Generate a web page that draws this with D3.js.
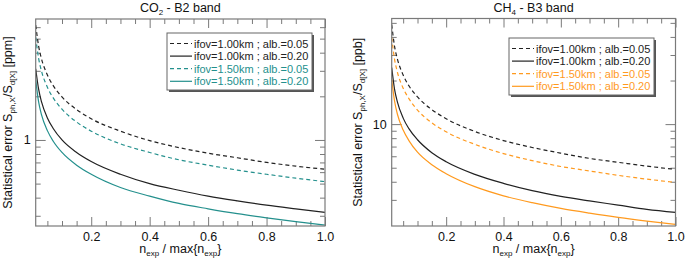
<!DOCTYPE html>
<html>
<head>
<meta charset="utf-8">
<script src="https://cdn.jsdelivr.net/npm/d3@7"></script>
<style>
  body { margin: 0; background: #fff; }
  svg text { font-family: "Liberation Sans", Arial, Helvetica, sans-serif; fill: #111; }
</style>
</head>
<body>
<div id="chart"></div>
<script>
var xValues = [0.01, 0.02, 0.03, 0.05, 0.07, 0.1, 0.15, 0.2, 0.3, 0.4, 0.5, 0.6, 0.7, 0.8, 0.9, 1.0];

// CO2 - B2 band [ppm]
var co2_100_005 = [6.2, 4.44, 3.62, 2.81, 2.37, 1.98, 1.62, 1.40, 1.15, 0.99, 0.886, 0.81, 0.754, 0.70, 0.66, 0.628];
var co2_100_020 = [3.1, 2.24, 1.83, 1.42, 1.20, 1.0, 0.82, 0.71, 0.58, 0.50, 0.45, 0.41, 0.38, 0.355, 0.335, 0.317];
var co2_150_005 = [5.1, 3.65, 2.98, 2.31, 1.95, 1.63, 1.33, 1.15, 0.94, 0.82, 0.73, 0.67, 0.62, 0.58, 0.545, 0.516];
var co2_150_020 = [2.6, 1.83, 1.49, 1.16, 0.98, 0.82, 0.67, 0.58, 0.47, 0.41, 0.365, 0.335, 0.31, 0.29, 0.273, 0.259];

// CH4 - B3 band [ppb]
var ch4_100_005 = [48.7, 34.4, 28.1, 21.8, 18.4, 15.4, 12.6, 10.9, 8.9, 7.7, 6.9, 6.3, 5.8, 5.45, 5.13, 4.87];
var ch4_100_020 = [24.6, 17.4, 14.2, 11.0, 9.3, 7.8, 6.35, 5.5, 4.5, 3.9, 3.47, 3.17, 2.95, 2.76, 2.58, 2.46];
var ch4_150_005 = [39.6, 28.0, 22.8, 17.7, 15.0, 12.5, 10.2, 8.85, 7.25, 6.26, 5.6, 5.1, 4.75, 4.43, 4.17, 3.96];
var ch4_150_020 = [20.3, 14.4, 11.7, 9.1, 7.7, 6.4, 5.25, 4.55, 3.7, 3.2, 2.87, 2.62, 2.43, 2.27, 2.14, 2.03];

var legendLabels = ["ifov=1.00km ; alb.=0.05", "ifov=1.00km ; alb.=0.20", "ifov=1.50km ; alb.=0.05", "ifov=1.50km ; alb.=0.20"];

var xMajorTicks = [0.2, 0.4, 0.6, 0.8, 1.0];
var xMinorTicks = [0.05, 0.1, 0.15, 0.25, 0.3, 0.35, 0.45, 0.5, 0.55, 0.65, 0.7, 0.75, 0.85, 0.9, 0.95];
var co2MajorTicks = [1];
var co2MinorTicks = [0.3, 0.4, 0.5, 0.6, 0.7, 0.8, 0.9, 2, 3, 4, 5, 6];
var ch4MajorTicks = [10];
var ch4MinorTicks = [3, 4, 5, 6, 7, 8, 9, 20, 30, 40, 50];

var width = 685, height = 263;

var svg = d3.select("#chart")
    .append("svg")
    .attr("width", width)
    .attr("height", height);

var teal = "#24908d";
var orange = "#ff9a1f";
var dark = "#222";
var frameColor = "#7a7a7a";

function drawPanel(p) {
    var g = svg.append("g");

    var xScale = d3.scaleLinear()
        .domain([0.01, 1.0])
        .range([p.left, p.right]);

    var yScale = d3.scaleLog()
        .domain(p.yDomain)
        .range([p.bottom, p.top]);

    // ticks, all pointing inward
    function tickAxis(axis, values, size, transform) {
        var a = g.append("g")
            .attr("transform", transform)
            .call(axis.tickValues(values).tickSize(-size).tickFormat(""));
        a.select(".domain").remove();
        a.selectAll("line").attr("stroke", frameColor);
        return a;
    }
    tickAxis(d3.axisBottom(xScale), xMinorTicks, 5, `translate(0,${p.bottom})`);
    tickAxis(d3.axisBottom(xScale), xMajorTicks, 9, `translate(0,${p.bottom})`);
    tickAxis(d3.axisTop(xScale), xMinorTicks, 5, `translate(0,${p.top})`);
    tickAxis(d3.axisTop(xScale), xMajorTicks, 9, `translate(0,${p.top})`);
    tickAxis(d3.axisLeft(yScale), p.yMinor, 5, `translate(${p.left},0)`);
    tickAxis(d3.axisLeft(yScale), p.yMajor, 10, `translate(${p.left},0)`);
    tickAxis(d3.axisRight(yScale), p.yMinor, 5, `translate(${p.right},0)`);
    tickAxis(d3.axisRight(yScale), p.yMajor, 10, `translate(${p.right},0)`);

    // tick labels
    var xLab = g.append("g")
        .attr("transform", `translate(0,${p.bottom})`)
        .call(d3.axisBottom(xScale).tickValues(xMajorTicks).tickSize(0).tickPadding(6)
            .tickFormat(d3.format(".1f")));
    xLab.select(".domain").remove();
    xLab.selectAll("text").attr("font-size", 12.5).style("font-family", "Liberation Sans, Arial, sans-serif").attr("fill", "#111");

    var yLab = g.append("g")
        .attr("transform", `translate(${p.left},0)`)
        .call(d3.axisLeft(yScale).tickValues(p.yMajor).tickSize(0).tickPadding(5)
            .tickFormat(d3.format("d")));
    yLab.select(".domain").remove();
    yLab.selectAll("text").attr("font-size", 12.5).style("font-family", "Liberation Sans, Arial, sans-serif").attr("fill", "#111");

    // curves
    var clipId = "clip" + p.id;
    svg.append("clipPath").attr("id", clipId)
        .append("rect")
        .attr("x", p.left).attr("y", p.top)
        .attr("width", p.right - p.left).attr("height", p.bottom - p.top);

    var line = d3.line()
        .x(function(d) { return xScale(d[0]); })
        .y(function(d) { return yScale(d[1]); })
        .curve(d3.curveMonotoneX);

    p.series.forEach(function(s) {
        g.append("path")
            .datum(xValues.map(function(x, i) { return [x, s.values[i]]; }))
            .attr("clip-path", `url(#${clipId})`)
            .attr("fill", "none")
            .attr("stroke", s.color)
            .attr("stroke-width", 1.2)
            .attr("stroke-dasharray", s.dashed ? "4,3" : null)
            .attr("d", line);
    });

    // frame
    g.append("rect")
        .attr("x", p.left).attr("y", p.top)
        .attr("width", p.right - p.left).attr("height", p.bottom - p.top)
        .attr("fill", "none")
        .attr("stroke", frameColor)
        .attr("stroke-width", 1.2);

    // legend
    var lg = g.append("g").attr("transform", `translate(${p.legend[0]},${p.legend[1]})`);
    var lw = 145, lh = 57;
    lg.append("rect")
        .attr("x", 2).attr("y", 2).attr("width", lw).attr("height", lh)
        .attr("fill", "#555");
    lg.append("rect")
        .attr("x", 0).attr("y", 0).attr("width", lw).attr("height", lh)
        .attr("fill", "#fff").attr("stroke", "#666").attr("stroke-width", 1);
    p.series.forEach(function(s, i) {
        var y = 10.5 + i * 12.6;
        lg.append("line")
            .attr("x1", 3).attr("x2", 25)
            .attr("y1", y).attr("y2", y)
            .attr("stroke", s.color).attr("stroke-width", 1.2)
            .attr("stroke-dasharray", s.dashed ? "4,3" : null);
        lg.append("text")
            .attr("x", 27).attr("y", y + 4)
            .attr("font-size", 11)
            .style("fill", s.color)
            .text(legendLabels[i]);
    });

    // title
    var cx = (p.left + p.right) / 2;
    var t = g.append("text")
        .attr("x", cx).attr("y", 12)
        .attr("text-anchor", "middle")
        .attr("font-size", 12.5);
    t.append("tspan").text(p.gas);
    t.append("tspan").attr("font-size", 8).attr("dy", 3).text(p.sub);
    t.append("tspan").attr("dy", -3).text(p.band);

    // x title
    var xt = g.append("text")
        .attr("x", cx).attr("y", 253)
        .attr("text-anchor", "middle")
        .attr("font-size", 12.5);
    xt.append("tspan").text("n");
    xt.append("tspan").attr("font-size", 8).attr("dy", 3).text("exp");
    xt.append("tspan").attr("dy", -3).text(" / max{n");
    xt.append("tspan").attr("font-size", 8).attr("dy", 3).text("exp");
    xt.append("tspan").attr("dy", -3).text("}");

    // y title
    var yt = g.append("text")
        .attr("transform", `translate(${p.yTitleX},${(p.top + p.bottom) / 2}) rotate(-90)`)
        .attr("text-anchor", "middle")
        .attr("font-size", 12.5);
    yt.append("tspan").text("Statistical error S");
    yt.append("tspan").attr("font-size", 8).attr("dy", 3).text("ph,X");
    yt.append("tspan").attr("dy", -3).text("/S");
    yt.append("tspan").attr("font-size", 8).attr("dy", 3).text("d[X]");
    yt.append("tspan").attr("dy", -3).text(" [" + p.unit + "]");
}

drawPanel({
    id: "co2",
    left: 35.7, right: 325, top: 19, bottom: 226,
    yDomain: [0.255, 6.83],
    yMajor: co2MajorTicks, yMinor: co2MinorTicks,
    gas: "CO", sub: "2", band: " - B2 band", unit: "ppm",
    yTitleX: 12,
    legend: [167, 33],
    series: [
        {values: co2_100_005, color: dark, dashed: true},
        {values: co2_100_020, color: dark, dashed: false},
        {values: co2_150_005, color: teal, dashed: true},
        {values: co2_150_020, color: teal, dashed: false}
    ]
});

drawPanel({
    id: "ch4",
    left: 391.7, right: 675.5, top: 18.5, bottom: 226,
    yDomain: [1.98, 53.6],
    yMajor: ch4MajorTicks, yMinor: ch4MinorTicks,
    gas: "CH", sub: "4", band: " - B3 band", unit: "ppb",
    yTitleX: 362,
    legend: [509, 38],
    series: [
        {values: ch4_100_005, color: dark, dashed: true},
        {values: ch4_100_020, color: dark, dashed: false},
        {values: ch4_150_005, color: orange, dashed: true},
        {values: ch4_150_020, color: orange, dashed: false}
    ]
});
</script>
</body>
</html>
